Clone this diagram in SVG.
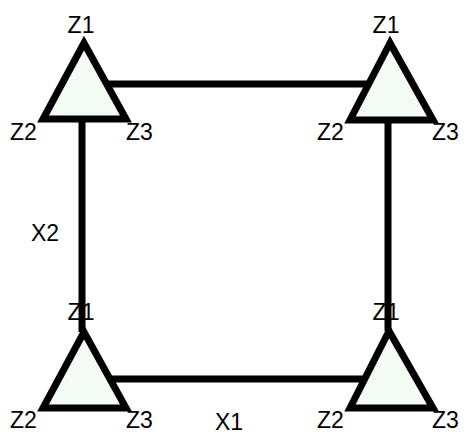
<svg xmlns="http://www.w3.org/2000/svg" width="472" height="448" viewBox="0 0 472 448">
<style>
.edge{stroke:#000;stroke-width:7;fill:none}
.tri{fill:#f3fbf4;stroke:#000;stroke-width:7;stroke-linejoin:miter}
text{font-family:"Liberation Sans",Arial,sans-serif;font-size:23px;fill:#000}
.m{text-anchor:middle}
</style>
<rect width="472" height="448" fill="#fff"/>
<g id="connectors">
<line class="edge" x1="84" y1="84" x2="390" y2="84"/>
<line class="edge" x1="82" y1="119" x2="82" y2="332"/>
<line class="edge" x1="388" y1="120" x2="388" y2="331"/>
<line class="edge" x1="84" y1="379" x2="390" y2="379"/>
</g>
<g id="n1">
<polygon class="tri" points="84,43 43,119 126,119"/>
<text class="m" x="81" y="33">Z1</text>
<text x="10" y="140">Z2</text>
<text x="126" y="140">Z3</text>
</g>
<g id="n2">
<polygon class="tri" points="390,43 350,120 433,120"/>
<text class="m" x="386" y="33">Z1</text>
<text x="317" y="140">Z2</text>
<text x="432" y="140">Z3</text>
</g>
<g id="n3">
<polygon class="tri" points="84,332 43,408 126,408"/>
<text class="m" x="81" y="320">Z1</text>
<text x="10" y="428">Z2</text>
<text x="126" y="428">Z3</text>
</g>
<g id="n4">
<polygon class="tri" points="389,331 350,408 433,408"/>
<text class="m" x="386" y="320">Z1</text>
<text x="317" y="428">Z2</text>
<text x="432" y="428">Z3</text>
</g>
<text x="31" y="241">X2</text>
<text x="215" y="430">X1</text>
</svg>
